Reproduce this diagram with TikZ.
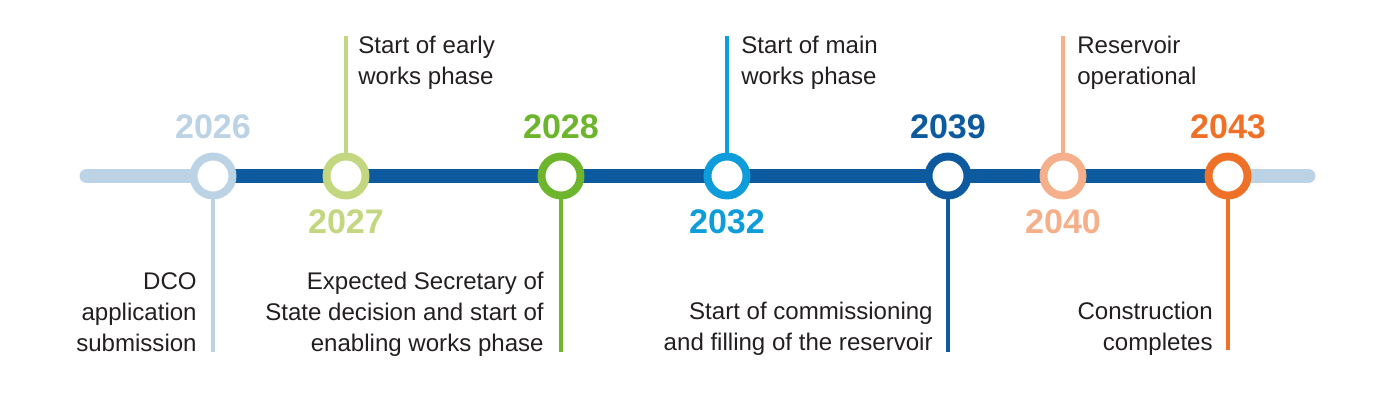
\documentclass[tikz,border=0pt]{standalone}
\usepackage{fontspec}
\setmainfont{Liberation Sans}
\usetikzlibrary{positioning,backgrounds}
\definecolor{paleblue}{HTML}{BCD3E6}
\definecolor{palegreen}{HTML}{C3D781}
\definecolor{leafgreen}{HTML}{6DB52C}
\definecolor{skyblue}{HTML}{0E9DDA}
\definecolor{navy}{HTML}{0D5A9E}
\definecolor{peach}{HTML}{F5B08B}
\definecolor{orange}{HTML}{EE7127}
\definecolor{textgrey}{HTML}{231F20}

\begin{document}
\begin{tikzpicture}[
  x=0.02cm,y=-0.02cm,
  node distance=0.27cm,
  ms/.style={circle,draw=#1,line width=4.5pt,fill=white,minimum size=0.78cm,inner sep=0pt},
  stick/.style={draw=#1,line width=2.3pt},
  year/.style={text=#1,font=\fontsize{19.4}{23}\selectfont\bfseries,inner sep=0pt,outer sep=0pt},
  lbl/.style={text=textgrey,font=\fontsize{13.7}{17.6}\selectfont,inner sep=0pt},
  bar/.style={line width=8.5pt}
]
\useasboundingbox (0,0) rectangle (1400,400);
% milestones
\node[ms=paleblue] (c26) at (213,176) {};
\node[ms=palegreen] (c27) at (346,176) {};
\node[ms=leafgreen] (c28) at (561,176) {};
\node[ms=skyblue] (c32) at (727,176) {};
\node[ms=navy] (c39) at (948,176) {};
\node[ms=peach] (c40) at (1063,176) {};
\node[ms=orange] (c43) at (1228,176) {};
% years
\node[year=paleblue,above=of c26] (y26) {2026};
\node[year=palegreen,below=0.21cm of c27] (y27) {2027};
\node[year=leafgreen,above=of c28] (y28) {2028};
\node[year=skyblue,below=0.21cm of c32] (y32) {2032};
\node[year=navy,above=of c39] (y39) {2039};
\node[year=peach,below=0.21cm of c40] (y40) {2040};
\node[year=orange,above=of c43] (y43) {2043};
% stick ends
\coordinate (e26) at (213,352);
\coordinate (e27) at (346,36);
\coordinate (e28) at (561,352);
\coordinate (e32) at (727,36);
\coordinate (e39) at (948,352);
\coordinate (e40) at (1063,36);
\coordinate (e43) at (1228,350);
% descriptions
\node[lbl,anchor=north east,align=right] (t26) at (197,272) {DCO\\application\\submission};
\node[lbl,anchor=north west,align=left] (t27) at (358,36) {Start of early\\works phase};
\node[lbl,anchor=north east,align=right] (t28) at (544,272) {Expected Secretary of\\State decision and start of\\enabling works phase};
\node[lbl,anchor=north west,align=left] (t32) at (741,36) {Start of main\\works phase};
\node[lbl,anchor=north east,align=right] (t39) at (933,302) {Start of commissioning\\and filling of the reservoir};
\node[lbl,anchor=north west,align=left] (t40) at (1077,36) {Reservoir\\operational};
\node[lbl,anchor=north east,align=right] (t43) at (1213,302) {Construction\\completes};
\begin{scope}[on background layer]
\coordinate (l0) at (87,176);
\coordinate (l1) at (1308,176);
\draw[bar,paleblue,line cap=round] (l0) -- (l1);
\draw[bar,navy] (c26.center) -- (c43.center);
\draw[stick=paleblue] (c26.center) -- (e26);
\draw[stick=palegreen] (c27.center) -- (e27);
\draw[stick=leafgreen] (c28.center) -- (e28);
\draw[stick=skyblue] (c32.center) -- (e32);
\draw[stick=navy] (c39.center) -- (e39);
\draw[stick=peach] (c40.center) -- (e40);
\draw[stick=orange] (c43.center) -- (e43);
\end{scope}
\end{tikzpicture}
\end{document}
